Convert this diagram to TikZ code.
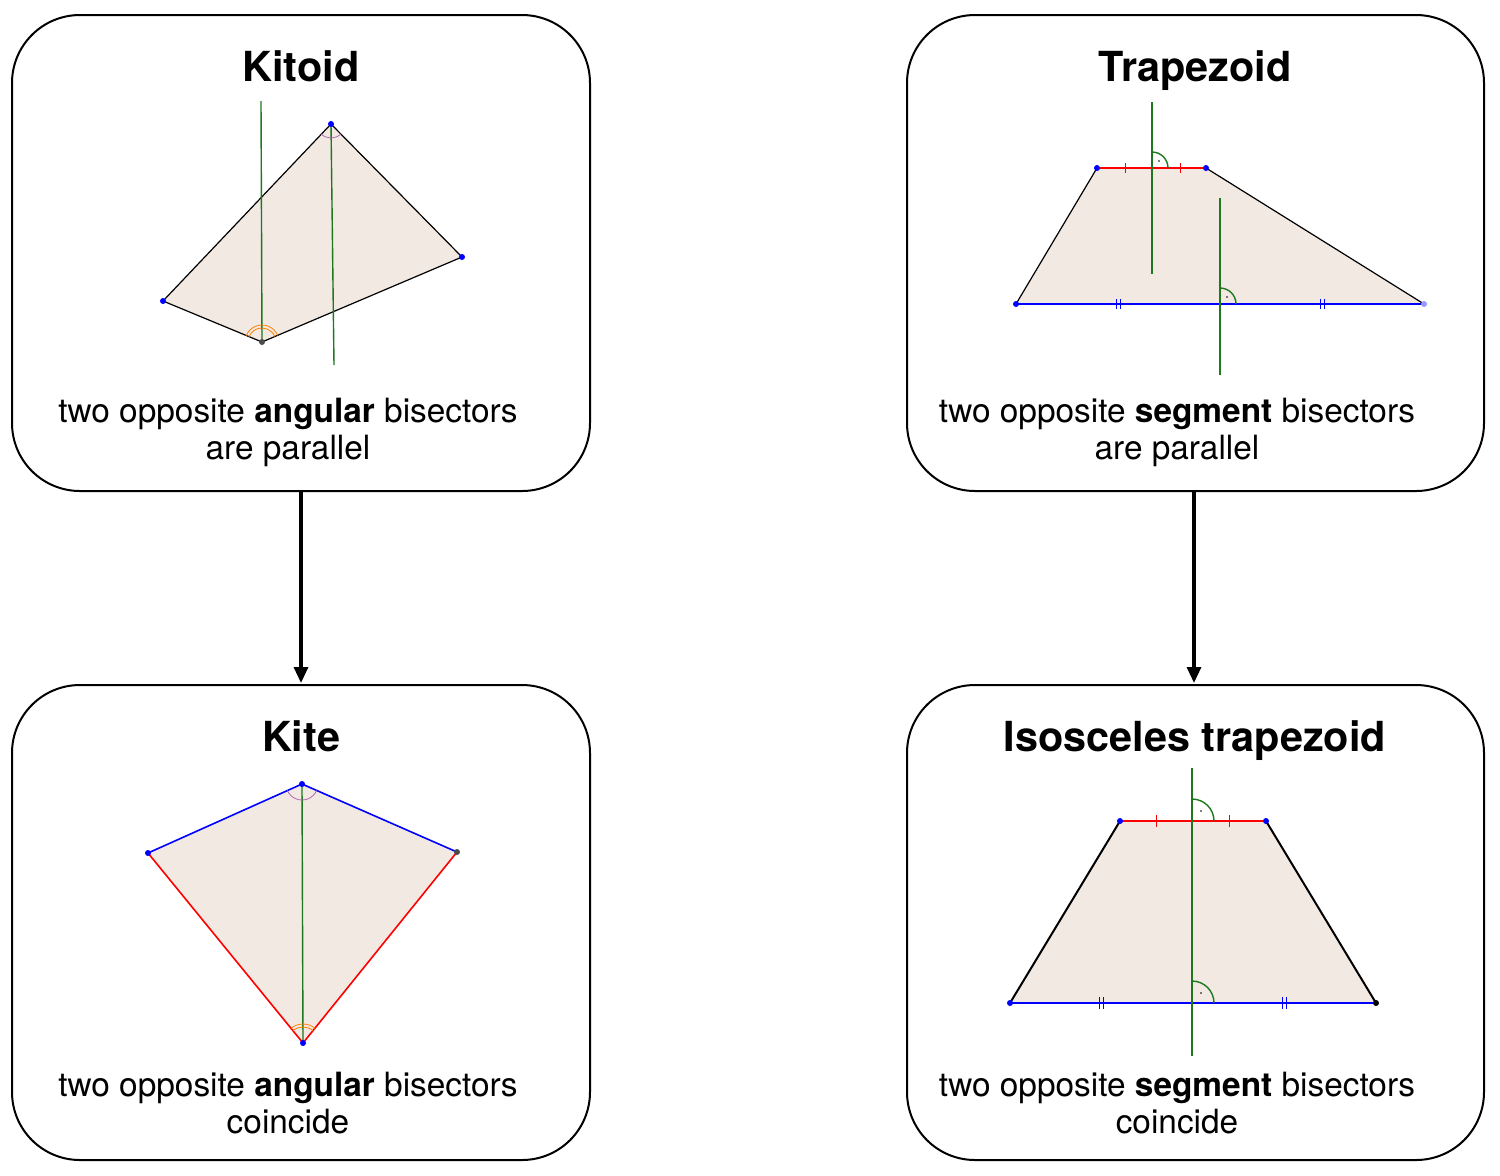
\documentclass[tikz,border=0pt]{standalone}
\usepackage{fontspec}
\setmainfont{TeX Gyre Heros}
\usetikzlibrary{arrows.meta}
\definecolor{fillq}{RGB}{242,233,227}
\definecolor{gr}{RGB}{30,120,30}
\tikzset{
 card/.style={draw,line width=1pt,rounded corners=34pt},
 ttl/.style={font=\fontsize{20.7}{24}\selectfont\bfseries,anchor=base},
 txt/.style={font=\fontsize{16.7}{18.5}\selectfont,align=center},
 flow/.style={line width=1.6pt,-{Triangle[length=8pt,width=7pt]}},
 pt/.style={fill=blue,inner sep=0pt,minimum size=3pt,circle},
 gl/.style={gr,line width=0.7pt},
}
\begin{document}
\begin{tikzpicture}[x=0.5pt,y=-0.5pt]
\useasboundingbox (0,0) rectangle (1500,1175);
% cards
\draw[card] (12,15) rectangle (590,491);
\draw[card] (907,15) rectangle (1484,491);
\draw[card] (12,685) rectangle (590,1160);
\draw[card] (907,685) rectangle (1484,1160);
\node[ttl] (t1) at (301,81) {Kitoid};
\node[ttl] (t2) at (1195,81) {Trapezoid};
\node[ttl] (t3) at (301,751) {Kite};
\node[ttl] (t4) at (1195,751) {Isosceles trapezoid};
\node[txt] (d1) at (288,432) {two opposite \textbf{angular} bisectors\\are parallel};
\node[txt] (d2) at (1177,432) {two opposite \textbf{segment} bisectors\\are parallel};
\node[txt] (d3) at (288,1103) {two opposite \textbf{angular} bisectors\\coincide};
\node[txt] (d4) at (1177,1103) {two opposite \textbf{segment} bisectors\\coincide};
\coordinate (a1) at (301,491); \coordinate (a2) at (301,683);
\coordinate (b1) at (1194,491); \coordinate (b2) at (1194,683);
\draw[flow] (a1) -- (a2);
\draw[flow] (b1) -- (b2);
% Kitoid
\coordinate (KA) at (163,301); \coordinate (KB) at (262,342);
\coordinate (KC) at (462,257); \coordinate (KD) at (331,124);
\fill[fillq] (KA)--(KB)--(KC)--(KD)--cycle;
\draw[line width=0.6pt] (KA)--(KB)--(KC)--(KD)--cycle;
\draw[gl] (261,101) -- (KB);
\draw[gl] (KD) -- (334,365);
\draw[orange] ([shift={(-23:14)}]KB) arc[start angle=-23,end angle=-158,radius=14];
\draw[orange] ([shift={(-23:17)}]KB) arc[start angle=-23,end angle=-158,radius=17];
\draw[violet!60] ([shift={(45:14)}]KD) arc[start angle=45,end angle=135,radius=14];
\foreach \p in {KA,KC,KD} \node[pt] at (\p) {};
\node[pt,fill=black!70] at (KB) {};
% Trapezoid
\coordinate (TA) at (1016,304); \coordinate (TB) at (1424,304);
\coordinate (TC) at (1206,168); \coordinate (TD) at (1097,168);
\fill[fillq] (TA)--(TB)--(TC)--(TD)--cycle;
\draw[line width=0.6pt] (TB)--(TC) (TD)--(TA);
\draw[red,line width=0.8pt] (TD)--(TC);
\draw[blue,line width=0.8pt] (TA)--(TB);
\draw[gl] (1152,102)--(1152,274);
\draw[gl] (1220,198)--(1220,375);
\draw[gl] (1152,152) arc[start angle=-90,end angle=0,radius=16];
\fill (1159,161) circle (0.8);
\draw[gl] (1220,288) arc[start angle=-90,end angle=0,radius=16];
\fill (1227,297) circle (0.8);
\draw[red] (1125,163)--(1125,173) (1180,163)--(1180,173);
\draw[blue] (1116,299)--(1116,309) (1120,299)--(1120,309) (1320,299)--(1320,309) (1324,299)--(1324,309);
\foreach \p in {TA,TC,TD} \node[pt] at (\p) {};
\node[pt,fill=blue!40] at (TB) {};
% Kite
\coordinate (EA) at (302,784); \coordinate (EB) at (148,853);
\coordinate (EC) at (303,1043); \coordinate (ED) at (457,852);
\fill[fillq] (EA)--(EB)--(EC)--(ED)--cycle;
\draw[blue,line width=0.8pt] (EB)--(EA)--(ED);
\draw[red,line width=0.8pt] (EB)--(EC)--(ED);
\draw[gl] (EA)--(EC);
\draw[violet!60] ([shift={(24:16)}]EA) arc[start angle=24,end angle=156,radius=16];
\draw[orange] ([shift={(-51:16)}]EC) arc[start angle=-51,end angle=-129,radius=16];
\draw[orange] ([shift={(-51:19)}]EC) arc[start angle=-51,end angle=-129,radius=19];
\foreach \p in {EA,EB,EC} \node[pt] at (\p) {};
\node[pt,fill=black!70] at (ED) {};
% Isosceles trapezoid
\coordinate (IA) at (1010,1003); \coordinate (IB) at (1376,1003);
\coordinate (IC) at (1266,821); \coordinate (ID) at (1120,821);
\fill[fillq] (IA)--(IB)--(IC)--(ID)--cycle;
\draw[line width=1pt] (IB)--(IC) (ID)--(IA);
\draw[red,line width=0.8pt] (ID)--(IC);
\draw[blue,line width=0.8pt] (IA)--(IB);
\draw[gl] (1192,768)--(1192,1056);
\draw[gl] (1192,799) arc[start angle=-90,end angle=0,radius=22];
\fill (1201,811) circle (0.9);
\draw[gl] (1192,981) arc[start angle=-90,end angle=0,radius=22];
\fill (1201,993) circle (0.9);
\draw[red] (1156,815)--(1156,827) (1229,815)--(1229,827);
\draw[blue] (1099,997)--(1099,1009) (1103,997)--(1103,1009) (1282,997)--(1282,1009) (1286,997)--(1286,1009);
\foreach \p in {IA,IC,ID} \node[pt] at (\p) {};
\node[pt,fill=black] at (IB) {};
\end{tikzpicture}
\end{document}
